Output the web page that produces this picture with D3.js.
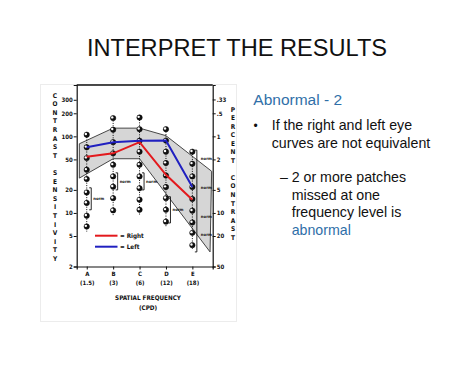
<!DOCTYPE html>
<html><head><meta charset="utf-8">
<script src="https://cdn.jsdelivr.net/npm/d3@7"></script>
<style>html,body{margin:0;padding:0;background:#fff;} svg{display:block}</style>
</head><body>
<svg id="c" width="474" height="368"></svg>
<script>
// ---- data ----
const categories = ["A","B","C","D","E"];
const frequencies = ["(1.5)","(3)","(6)","(12)","(18)"];
const rightEye = [54, 60, 84, 31.5, 14.9];
const leftEye  = [72, 84, 87.5, 88, 21.8];
const csTicks  = [2, 5, 10, 20, 50, 100, 200, 300];
const pctTicks = [0.33, 0.5, 1, 2, 5, 10, 20, 50];
const pctLabels = [".33", ".5", "1", "2", "5", "10", "20", "50"];
const patchA = [105, 72, 52, 36.6, 27.7, 18.5, 13.5, 9.2, 6.65];
const patchB = [173, 122, 84, 60, 42.5, 30, 22, 15.6, 10.8];
const patchC = [176, 124, 87.5, 63, 42.5, 30, 21, 14.9, 11];
const patchD = [124, 88, 63, 44.8, 30.8, 21.8, 15.6, 11, 7.7];
const patchE = [63, 43.8, 30, 21.8, 15.2, 10.7, 7.5, 5.5, 3.8];
// normal band outline: [frequency index, contrast sensitivity]
const normUpper = [[-0.28, 80], [1, 128], [2, 128], [3, 102], [4.73, 35], [4.67, 3.1]];
const normLower = [[2, 51], [1, 51], [-0.28, 28.5]];
// "norm" brackets: [column, high CS, low CS]
const normBrackets = [[0, 21.3, 11], [1, 33.4, 20], [2, 33.4, 20], [3, 16.3, 7.4], [4, 66, 3.1]];
const normLabelsE = [51, 21.3, 8.9, 5.2];
const seriesNames = ["= Right", "= Left"];

// ---- drawing ----
const svg = d3.select("#c");
const W = 474, H = 368;
svg.append("rect").attr("width", W).attr("height", H).attr("fill", "#fff");

// title
svg.append("text").attr("x", 237).attr("y", 56).attr("text-anchor", "middle")
  .attr("font-family", "Liberation Sans, Arial, sans-serif").attr("font-size", 23.6)
  .attr("fill", "#111").text("INTERPRET THE RESULTS");

// picture panel border
svg.append("rect").attr("x", 40.5).attr("y", 84.5).attr("width", 196).attr("height", 237)
  .attr("fill", "none").attr("stroke", "#ececec").attr("stroke-width", 1);

const x = d3.scaleLinear().domain([-0.38, 4.77]).range([76.7, 212.7]);
const y = d3.scaleLog().domain([2, 468]).range([266.5, 85]);
const yr = d3.scaleLog().domain([50, 100 / 468]).range([266.5, 85]);

const narrow = "Liberation Sans Narrow, Arial Narrow, DejaVu Sans Condensed, sans-serif";

// band
const bandPts = normUpper.concat(normLower);
svg.append("path")
  .attr("d", d3.line().x(d => x(d[0])).y(d => y(d[1])).curve(d3.curveLinearClosed)(bandPts))
  .attr("fill", "#d6d6d6").attr("stroke", "#333").attr("stroke-width", 0.9);

// columns of patches
const patches = [patchA, patchB, patchC, patchD, patchE];
patches.forEach((col, i) => {
  const cx = x(i);
  svg.append("line").attr("x1", cx).attr("x2", cx)
    .attr("y1", y(d3.max(col))).attr("y2", y(d3.min(col)) + 5)
    .attr("stroke", "#111").attr("stroke-width", 1).attr("stroke-dasharray", "1,1.4");
});

// brackets
normBrackets.forEach(b => {
  const bx = x(b[0]) + 4.5;
  const y1 = y(b[1]), y2 = y(b[2]);
  svg.append("path").attr("d", `M${bx - 2},${y1}L${bx},${y1}L${bx},${y2}L${bx - 2},${y2}`)
    .attr("fill", "none").attr("stroke", "#111").attr("stroke-width", 0.9);
  if (b[0] < 4) {
    svg.append("text").attr("x", bx + 2).attr("y", (y1 + y2) / 2 + 1.5)
      .attr("font-family", narrow).attr("font-weight", "bold").attr("font-size", 4.2)
      .attr("fill", "#111").text("norm");
  }
});
normLabelsE.forEach(v => {
  svg.append("text").attr("x", x(4) + 8.5).attr("y", y(v) + 1.5)
    .attr("font-family", narrow).attr("font-weight", "bold").attr("font-size", 4.2)
    .attr("fill", "#111").text("norm");
});

// patch icons
patches.forEach((col, i) => {
  const g = svg.append("g");
  col.forEach(v => {
    const cx = x(i), cy = y(v);
    g.append("circle").attr("cx", cx).attr("cy", cy).attr("r", 2.7)
      .attr("fill", "#111").attr("stroke", "#000").attr("stroke-width", 0.5);
    g.append("circle").attr("cx", cx - 0.9).attr("cy", cy - 0.7).attr("r", 1.2).attr("fill", "#fff");
  });
});

// series lines
const line = d3.line().x((d, i) => x(i)).y(d => y(d));
svg.append("path").attr("d", line(rightEye)).attr("fill", "none")
  .attr("stroke", "#e3191d").attr("stroke-width", 2);
svg.append("path").attr("d", line(leftEye)).attr("fill", "none")
  .attr("stroke", "#2020c0").attr("stroke-width", 2);

// axes
function styleAxis(g) {
  g.selectAll("text").attr("font-family", narrow).attr("font-weight", "bold")
    .attr("font-size", 6).attr("fill", "#111");
  g.selectAll("line,path").attr("stroke", "#111");
  g.select(".domain").attr("stroke-width", 1.2);
}
svg.append("g").attr("transform", "translate(76.7,0)")
  .call(d3.axisLeft(y).tickValues(csTicks).tickFormat(d3.format("d")).tickSize(3).tickPadding(1))
  .call(styleAxis);
svg.append("g").attr("transform", "translate(212.7,0)")
  .call(d3.axisRight(yr).tickValues(pctTicks).tickFormat((d, i) => pctLabels[i]).tickSize(3).tickPadding(1))
  .call(styleAxis);
const xa = svg.append("g").attr("transform", "translate(0,266.5)")
  .call(d3.axisBottom(x).tickValues(d3.range(5)).tickFormat(i => categories[i]).tickSize(3).tickPadding(2))
  .call(styleAxis);
xa.selectAll(".tick").append("text").attr("y", 18).attr("text-anchor", "middle")
  .attr("font-family", narrow).attr("font-weight", "bold").attr("font-size", 6).attr("fill", "#111")
  .text(i => frequencies[i]);
// top frame line
svg.append("line").attr("x1", 76.7).attr("x2", 212.7).attr("y1", 85).attr("y2", 85)
  .attr("stroke", "#111").attr("stroke-width", 1.4);

// axis titles
const lt = "CONTRAST SENSITIVITY".split("");
lt.forEach((ch, i) => {
  svg.append("text").attr("x", 55).attr("y", 97.5 + i * 8.6).attr("text-anchor", "middle")
    .attr("font-family", narrow).attr("font-weight", "bold").attr("font-size", 6.5)
    .attr("fill", "#111").text(ch);
});
const rt = "PERCENT CONTRAST".split("");
rt.forEach((ch, i) => {
  svg.append("text").attr("x", 233).attr("y", 111.5 + i * 8.55).attr("text-anchor", "middle")
    .attr("font-family", narrow).attr("font-weight", "bold").attr("font-size", 6.5)
    .attr("fill", "#111").text(ch);
});
svg.append("text").attr("x", 148).attr("y", 300).attr("text-anchor", "middle")
  .attr("font-family", narrow).attr("font-weight", "bold").attr("font-size", 6.3)
  .attr("fill", "#111").text("SPATIAL FREQUENCY");
svg.append("text").attr("x", 148).attr("y", 310).attr("text-anchor", "middle")
  .attr("font-family", narrow).attr("font-weight", "bold").attr("font-size", 6.3)
  .attr("fill", "#111").text("(CPD)");

// legend
[["#e3191d", 235.7], ["#2020c0", 246.7]].forEach((d, i) => {
  svg.append("line").attr("x1", 95).attr("x2", 117.5).attr("y1", d[1]).attr("y2", d[1])
    .attr("stroke", d[0]).attr("stroke-width", 2);
  svg.append("text").attr("x", 120).attr("y", d[1] + 2.2)
    .attr("font-family", narrow).attr("font-weight", "bold").attr("font-size", 6.3)
    .attr("fill", "#111").text(seriesNames[i]);
});

// slide text
const sans = "Liberation Sans, Arial, sans-serif";
svg.append("text").attr("x", 253.3).attr("y", 105).attr("font-family", sans)
  .attr("font-size", 15.5).attr("fill", "#2f6fa8").text("Abnormal - 2");
svg.append("text").attr("x", 253.5).attr("y", 130).attr("font-family", sans)
  .attr("font-size", 12).attr("fill", "#111").text("•");
const body = [["If the right and left eye", 271.7, 130, "#111"],
              ["curves are not equivalent", 271.7, 148.3, "#111"],
              ["2 or more patches", 291.7, 181.7, "#111"],
              ["missed at one", 291.7, 199.5, "#111"],
              ["frequency level is", 291.7, 217.3, "#111"],
              ["abnormal", 291.7, 235, "#2f6fa8"]];
body.forEach(b => {
  svg.append("text").attr("x", b[1]).attr("y", b[2]).attr("font-family", sans)
    .attr("font-size", 14.2).attr("fill", b[3]).text(b[0]);
});
svg.append("text").attr("x", 280).attr("y", 181.7).attr("font-family", sans)
  .attr("font-size", 14.2).attr("fill", "#111").text("–");
</script>
</body></html>
